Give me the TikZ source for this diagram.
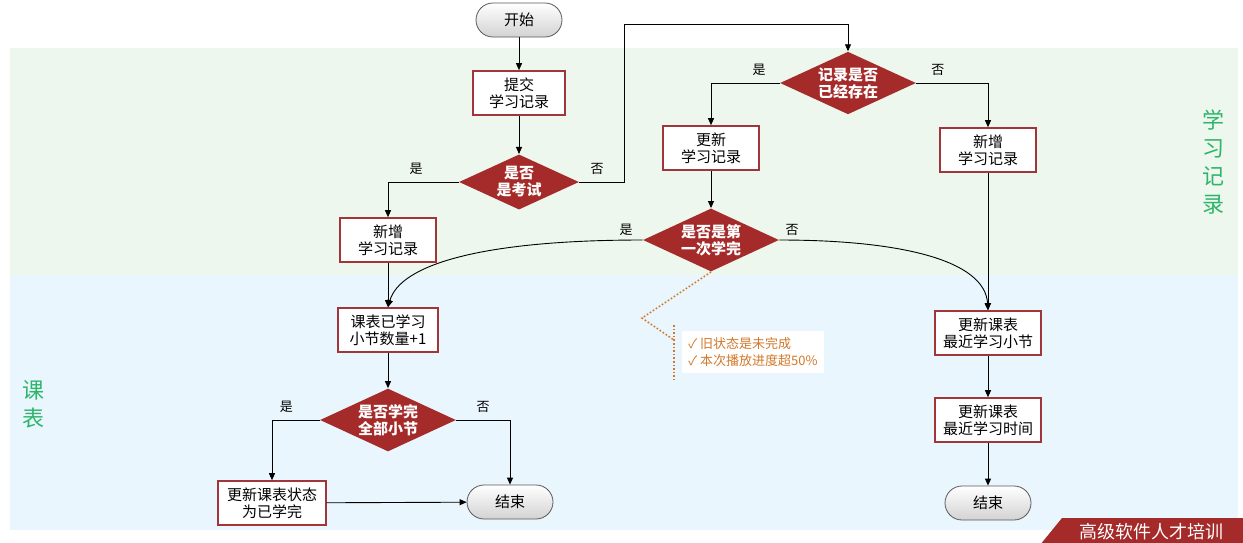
\documentclass[tikz,border=0pt]{standalone}
\usepackage{fontspec}
\setmainfont{Noto Sans CJK SC}
\usetikzlibrary{shapes.geometric,arrows.meta,positioning}
\definecolor{dred}{HTML}{A52A2A}
\definecolor{bred}{HTML}{A0353A}
\definecolor{bandg}{HTML}{EEF7EE}
\definecolor{bandb}{HTML}{EAF6FD}
\definecolor{tgreen}{HTML}{2DB56A}
\definecolor{note}{HTML}{D2782A}
\tikzset{
  box/.style={draw=bred,line width=0.7pt,fill=white,minimum width=#1,minimum height=22pt,align=center,font=\fontsize{7.5}{8.5}\selectfont},
  dec/.style={diamond,aspect=2.1,fill=dred,text=white,inner sep=0.5pt,align=center,minimum width=#1,font=\fontsize{7.5}{8.5}\selectfont\bfseries},
  term/.style={rounded corners=8.5pt,draw=gray!70!black,top color=white,bottom color=gray!35,minimum width=43pt,minimum height=17pt,font=\fontsize{7.5}{9}\selectfont},
  arr/.style={-{Triangle[length=3.5pt,width=3pt]},line width=0.45pt},
  lab/.style={font=\fontsize{6.5}{7}\selectfont}
}
\begin{document}
\begin{tikzpicture}[x=0.5pt,y=-0.5pt]
\useasboundingbox (0,0) rectangle (1243,542);
% background bands
\fill[bandg] (10,48) rectangle (1238,275);
\fill[bandb] (10,275) rectangle (1238,530);
\node[text=tgreen,font=\fontsize{11}{14}\selectfont,align=center] at (1213,162) {学\\习\\记\\录};
\node[text=tgreen,font=\fontsize{11}{14}\selectfont,align=center] at (33,404) {课\\表};
% nodes
\node[term] (start) at (519,20) {开始};
\node[box=46pt] (submit) at (519,93) {提交\\学习记录};
\node[dec=60pt] (exam) at (519,182) {是否\\是考试};
\node[box=48pt] (addA) at (388,240) {新增\\学习记录};
\node[box=50pt] (count) at (388,330) {课表已学习\\小节数量+1};
\node[dec=68pt] (all) at (388,420) {是否学完\\全部小节};
\node[box=54pt] (done) at (272,503) {更新课表状态\\为已学完};
\node[term] (endA) at (510,502) {结束};
\node[dec=68pt] (exist) at (848,83) {记录是否\\已经存在};
\node[box=48pt] (upd) at (711,148) {更新\\学习记录};
\node[box=48pt] (addB) at (988,150) {新增\\学习记录};
\node[dec=68pt] (first) at (711,240) {是否是第\\一次学完};
\node[box=53pt] (sec) at (988,333) {更新课表\\最近学习小节};
\node[box=53pt] (time) at (988,420) {更新课表\\最近学习时间};
\node[term] (endB) at (988,503) {结束};
% note
\node[fill=white,text=note,align=left,inner sep=3pt,font=\fontsize{6.5}{8.5}\selectfont,anchor=west] (tip) at (682,352) {✓\ 旧状态是未完成\\✓\ 本次播放进度超50\%};
\draw[note,densely dotted,line width=0.8pt] (first.south) -- (642,318) -- (674,340);
\draw[note,densely dotted,line width=0.8pt] (674,325) -- (674,380);
% connectors
\draw[arr] (start) -- (submit);
\draw[arr] (submit) -- (exam);
\draw[arr] (exam.west) -- node[lab,above,pos=0.6]{是} (addA.north |- exam.west) -- (addA.north);
\coordinate (up1) at (624,182);
\coordinate (up2) at (624,24);
\draw[arr] (exam.east) -- node[lab,above,pos=0.4]{否} (up1) -- (up2) -| (exist.north);
\draw[arr] (exist.west) -- node[lab,above,pos=0.3]{是} (upd.north |- exist.west) -- (upd.north);
\draw[arr] (exist.east) -- node[lab,above,pos=0.3]{否} (addB.north |- exist.east) -- (addB.north);
\draw[arr] (upd) -- (first);
\draw[arr] (addB) -- (sec);
\draw[arr] (addA) -- (count);
\draw[arr] (first.west) .. controls (480,240) and (400,265) .. (count.north);
\draw[arr] (first.east) .. controls (900,240) and (985,260) .. (sec.north);
\node[lab] at (626,230) {是};
\node[lab] at (792,230) {否};
\draw[arr] (count) -- (all);
\draw[arr] (all.west) -- node[lab,above,pos=0.7]{是} (done.north |- all.west) -- (done.north);
\draw[arr] (all.east) -- node[lab,above,pos=0.5]{否} (endA.north |- all.east) -- (endA.north);
\draw[arr] (done) -- (endA);
\draw[arr] (sec) -- (time);
\draw[arr] (time) -- (endB);
% banner
\begin{scope}
\clip (0,0) rectangle (1243,542);
\fill[dred] (1062,518) -- (1243,518) -- (1243,545) -- (1040,545) -- cycle;
\node[white,anchor=west,font=\fontsize{9}{10}\selectfont] at (1072,532) {高级软件人才培训};
\end{scope}
\end{tikzpicture}
\end{document}
